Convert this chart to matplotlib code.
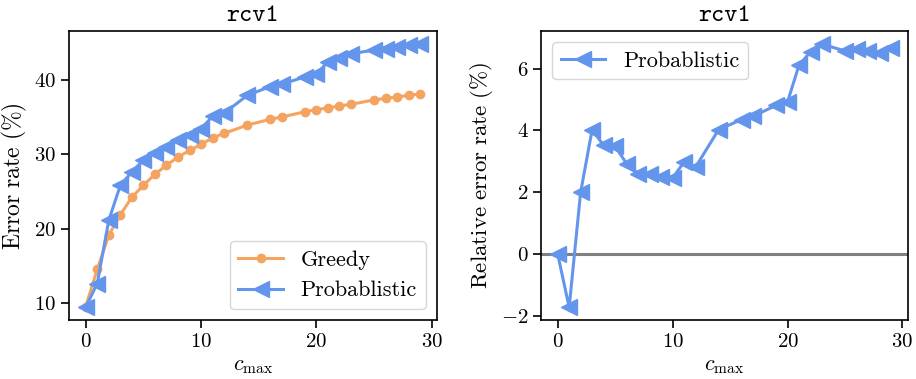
import matplotlib
matplotlib.use("Agg")
import matplotlib.pyplot as plt

plt.rcParams['font.family'] = ['cmr10', 'DejaVu Sans']
plt.rcParams['mathtext.fontset'] = 'cm'
plt.rcParams['axes.formatter.use_mathtext'] = True
plt.rcParams['axes.unicode_minus'] = True

c_max = [0, 1, 2, 3, 4, 5, 6, 7, 8, 9, 10, 11, 12, 14, 16, 17, 19, 20, 21, 22, 23, 25, 26, 27, 28, 29]
greedy = [9.5, 14.5, 19.1, 21.85, 24.2, 25.8, 27.3, 28.5, 29.6, 30.5, 31.3, 32.2, 32.8,
          33.9, 34.7, 35.0, 35.7, 36.0, 36.2, 36.5, 36.7, 37.3, 37.5, 37.7, 37.9, 38.1]
probabilistic = [9.4, 12.6, 21.1, 25.8, 27.6, 29.2, 30.2, 31.0, 31.9, 32.6, 33.4, 35.1, 35.5,
                 37.9, 39.1, 39.4, 40.4, 40.8, 42.4, 43.0, 43.5, 44.0, 44.2, 44.4, 44.7, 44.8]
relative = [0.0, -1.73, 2.0, 4.02, 3.51, 3.48, 2.92, 2.6, 2.57, 2.5, 2.46, 2.97, 2.81,
            4.02, 4.35, 4.45, 4.81, 4.92, 6.11, 6.54, 6.79, 6.57, 6.62, 6.57, 6.49, 6.68]

orange = '#F4A460'
blue = '#6495ED'

fig = plt.figure(figsize=(9.16, 3.79), dpi=100)
ax1 = fig.add_axes([0.0753, 0.1544, 0.4017, 0.7639])
ax2 = fig.add_axes([0.5906, 0.1544, 0.4003, 0.7639])

ax1.plot(c_max, greedy, color=orange, marker='o', ms=6, lw=2.2, label='Greedy')
ax1.plot(c_max, probabilistic, color=blue, marker='<', ms=11, lw=2.2, label='Probablistic')
ax1.set_yticks([10, 20, 30, 40])
ax1.set_ylabel(r'$\mathrm{Error\ rate\ (\%)}$', fontsize=17)
ax1.legend(loc='lower right', fontsize=16, borderpad=0.4)

ax2.axhline(0, color='gray', lw=2.2, zorder=1)
ax2.plot(c_max, relative, color=blue, marker='<', ms=11, lw=2.2, label='Probablistic', zorder=2)
ax2.set_yticks([-2, 0, 2, 4, 6])
ax2.set_ylabel(r'$\mathrm{Relative\ error\ rate\ (\%)}$', fontsize=16.5)
ax2.legend(loc='upper left', fontsize=16, borderpad=0.4)

for ax in (ax1, ax2):
    ax.set_xticks([0, 10, 20, 30])
    ax.set_xlabel(r'$c_{\max}$', fontsize=16)
    ax.set_title('rcv1', family='cmtt10', fontsize=18, pad=7)
    ax.tick_params(labelsize=15, length=5.5, width=1.2)
    for s in ax.spines.values():
        s.set_linewidth(1.2)

fig.savefig('out.png', dpi=100)
